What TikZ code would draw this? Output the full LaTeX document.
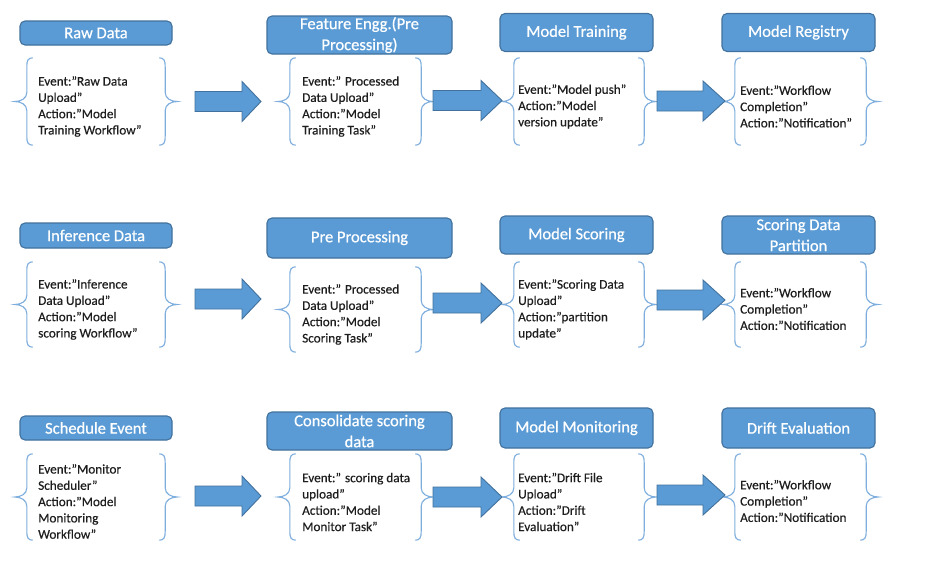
\documentclass[tikz,border=0pt]{standalone}
\usepackage{fontspec}
\setmainfont{Carlito}
\newfontfamily\hdrfont[FakeBold=0.6]{Carlito}
\newfontfamily\bodyfont[FakeBold=0.35]{Carlito}
\usetikzlibrary{calc}
\definecolor{hdrfill}{HTML}{5B9BD5}
\definecolor{hdredge}{HTML}{41719C}
\definecolor{brc}{HTML}{7EAEDD}
\definecolor{txt}{HTML}{1E1E1E}
\tikzset{
  hdr/.style={draw=hdredge, fill=hdrfill, line width=1.1pt, rounded corners=5pt,
    text=white, font=\hdrfont\fontsize{16.5}{21}\selectfont, align=center, inner sep=0pt},
  grp/.style={inner sep=0pt, draw=none},
  bodytxt/.style={font=\bodyfont\fontsize{13.2}{16.3}\selectfont, text=txt, align=left,
    inner sep=0pt, anchor=west},
  bracest/.style={draw=brc, line width=1.1pt},
  blockarr/.style={draw=hdredge, fill=hdrfill, line width=0.9pt, line join=miter},
}
% header box: name, cx, cy, width, height, text
\newcommand\hdrbox[6]{\node[hdr, minimum width=#4pt, minimum height=#5pt] (#1) at (#2,#3) {#6};}
% group box: name, cx, cy, width, height
\newcommand\grpbox[5]{\node[grp, minimum width=#4pt, minimum height=#5pt] (#1) at (#2,#3) {};}
% braces on both sides of a group box
\newcommand\bracepair[1]{%
  \draw[bracest] ([xshift=18pt]#1.north west)
    .. controls ([xshift=13pt]#1.north west) and ([xshift=12pt,yshift=-3pt]#1.north west) .. ([xshift=12pt,yshift=-9pt]#1.north west)
    -- ([xshift=12pt,yshift=9pt]#1.west)
    .. controls ([xshift=12pt,yshift=3pt]#1.west) and ([xshift=6pt]#1.west) .. (#1.west)
    .. controls ([xshift=6pt]#1.west) and ([xshift=12pt,yshift=-3pt]#1.west) .. ([xshift=12pt,yshift=-9pt]#1.west)
    -- ([xshift=12pt,yshift=9pt]#1.south west)
    .. controls ([xshift=12pt,yshift=3pt]#1.south west) and ([xshift=13pt]#1.south west) .. ([xshift=18pt]#1.south west);
  \draw[bracest] ([xshift=-18pt]#1.north east)
    .. controls ([xshift=-13pt]#1.north east) and ([xshift=-12pt,yshift=-3pt]#1.north east) .. ([xshift=-12pt,yshift=-9pt]#1.north east)
    -- ([xshift=-12pt,yshift=9pt]#1.east)
    .. controls ([xshift=-12pt,yshift=3pt]#1.east) and ([xshift=-6pt]#1.east) .. (#1.east)
    .. controls ([xshift=-6pt]#1.east) and ([xshift=-12pt,yshift=-3pt]#1.east) .. ([xshift=-12pt,yshift=-9pt]#1.east)
    -- ([xshift=-12pt,yshift=9pt]#1.south east)
    .. controls ([xshift=-12pt,yshift=3pt]#1.south east) and ([xshift=-13pt]#1.south east) .. ([xshift=-18pt]#1.south east);
}
% block arrow: name, left x, centre y, head base offset, tip offset
\newcommand\barrow[5]{%
  \coordinate (#1) at (#2,#3);
  \draw[blockarr] (#1) ++(0,-10) -- ++(#4,0) -- ++(0,-10) -- ++(#5-#4,20)
    -- ++(#4-#5,20) -- ++(0,-10) -- ++(-#4,0) -- cycle;
}
\begin{document}
\begin{tikzpicture}[x=1pt,y=-1pt]
\fill[white] (0,0) rectangle (940,565);
\useasboundingbox (0,0) rectangle (940,565);

% ---------------- Row 1 ----------------
\hdrbox{h11}{96}{33}{152}{24}{Raw Data}
\hdrbox{h12}{359.5}{35}{185}{38}{Feature Engg.(Pre\\Processing)}
\hdrbox{h13}{576.5}{32.5}{153}{38}{Model Training}
\hdrbox{h14}{798.5}{32.5}{153}{38}{Model Registry}

\grpbox{g11}{96}{101.5}{162}{87}
\grpbox{g12}{355.5}{101.5}{155}{87}
\grpbox{g13}{579}{101.5}{154}{87}
\grpbox{g14}{800.5}{101.5}{155}{87}
\bracepair{g11}\bracepair{g12}\bracepair{g13}\bracepair{g14}

\node[bodytxt] (t11) at (38,106.5) {Event:”Raw Data\\Upload”\\Action:”Model\\Training Workflow”};
\node[bodytxt] (t12) at (302,106.5) {Event:” Processed\\Data Upload”\\Action:”Model\\Training Task”};
\node[bodytxt] (t13) at (518,106.5) {Event:”Model push”\\Action:”Model\\version update”};
\node[bodytxt] (t14) at (740,106.5) {Event:”Workflow\\Completion”\\Action:”Notification”};

\barrow{a11}{195}{101.5}{47}{66}
\barrow{a12}{433}{100.5}{48}{69}
\barrow{a13}{657}{101}{46}{68}

% ---------------- Row 2 ----------------
\hdrbox{h21}{96}{235.5}{152}{25}{Inference Data}
\hdrbox{h22}{359.5}{238}{185}{40}{Pre Processing}
\hdrbox{h23}{576.5}{235}{153}{38}{Model Scoring}
\hdrbox{h24}{798.5}{235}{153}{38}{Scoring Data\\Partition}

\grpbox{g21}{96}{304.5}{162}{85}
\grpbox{g22}{355.5}{309.5}{155}{85}
\grpbox{g23}{579}{304.5}{154}{85}
\grpbox{g24}{800.5}{304.5}{155}{85}
\bracepair{g21}\bracepair{g22}\bracepair{g23}\bracepair{g24}

\node[bodytxt] (t21) at (38,309.5) {Event:”Inference\\Data Upload”\\Action:”Model\\scoring Workflow”};
\node[bodytxt] (t22) at (302,314.5) {Event:” Processed\\Data Upload”\\Action:”Model\\Scoring Task”};
\node[bodytxt] (t23) at (518,309.5) {Event:”Scoring Data\\Upload”\\Action:”partition\\update”};
\node[bodytxt] (t24) at (740,309) {Event:”Workflow\\Completion”\\Action:”Notification};

\barrow{a21}{195}{299}{47}{66}
\barrow{a22}{433}{303}{48}{69}
\barrow{a23}{657}{300}{46}{68}

% ---------------- Row 3 ----------------
\hdrbox{h31}{96}{428}{152}{24}{Schedule Event}
\hdrbox{h32}{359.5}{431}{185}{38}{Consolidate scoring\\data}
\hdrbox{h33}{576.5}{428}{153}{40}{Model Monitoring}
\hdrbox{h34}{798.5}{428}{153}{40}{Drift Evaluation}

\grpbox{g31}{96}{497}{162}{86}
\grpbox{g32}{355.5}{497}{155}{86}
\grpbox{g33}{579}{497}{154}{86}
\grpbox{g34}{800.5}{497}{155}{86}
\bracepair{g31}\bracepair{g32}\bracepair{g33}\bracepair{g34}

\node[bodytxt] (t31) at (38,501.5) {Event:”Monitor\\Scheduler”\\Action:”Model\\Monitoring\\Workflow”};
\node[bodytxt] (t32) at (302,502) {Event:” scoring data\\upload”\\Action:”Model\\Monitor Task”};
\node[bodytxt] (t33) at (518,502) {Event:”Drift File\\Upload”\\Action:”Drift\\Evaluation”};
\node[bodytxt] (t34) at (740,501) {Event:”Workflow\\Completion”\\Action:”Notification};

\barrow{a31}{195}{496}{47}{66}
\barrow{a32}{433}{497}{48}{69}
\barrow{a33}{657}{495}{46}{68}
\end{tikzpicture}
\end{document}
